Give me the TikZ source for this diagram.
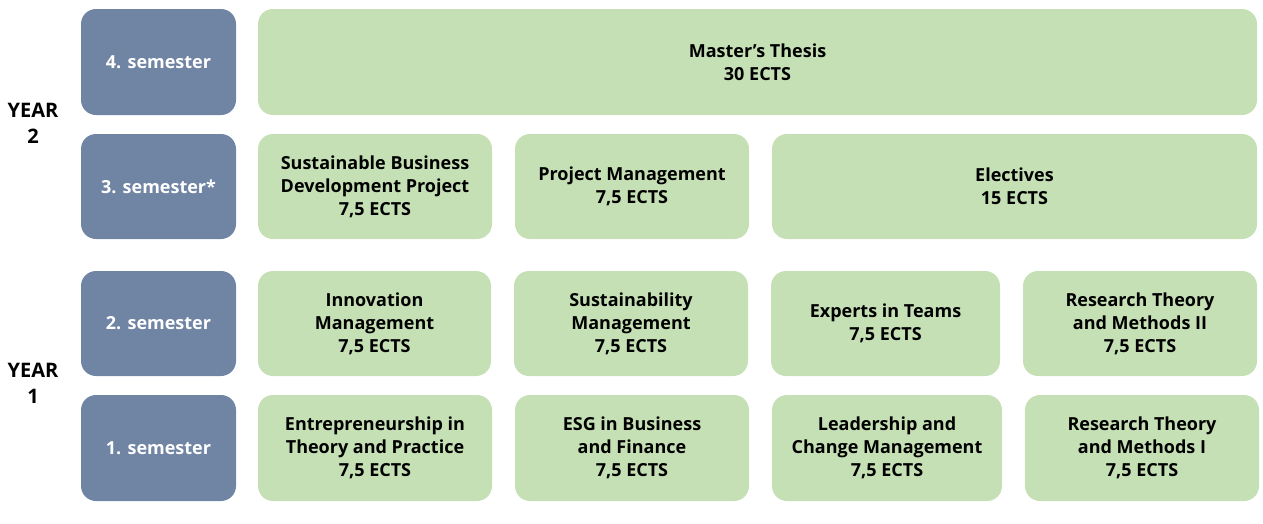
\documentclass[tikz,border=0pt]{standalone}
\usepackage{fontspec}
\setmainfont{Open Sans}
\definecolor{semblue}{HTML}{7084A4}
\definecolor{crsgreen}{HTML}{C5E0B4}
\begin{document}
\begin{tikzpicture}[x=1pt,y=-1pt,
  box/.style={rounded corners=15pt,align=center,inner sep=0pt,font=\fontsize{18}{23}\selectfont\bfseries},
  sem/.style={box,fill=semblue,text=white},
  crs/.style={box,fill=crsgreen,text=black},
  yearlbl/.style={align=center,font=\fontsize{20}{26}\selectfont\bfseries}]
\useasboundingbox (0,0) rectangle (1263,523);
\newcommand{\bx}[7]{\node[#1,minimum width={#4-#2},minimum height={#5-#3}] (#6) at ({(#2+#4)/2},{(#3+#5)/2}) {#7};}
% semesters
\bx{sem}{81}{9}{236}{115}{s4}{4. semester}
\bx{sem}{81}{134}{236}{239}{s3}{3. semester*}
\bx{sem}{81}{271}{236}{376}{s2}{2. semester}
\bx{sem}{81}{395}{236}{501}{s1}{1. semester}
% year labels
\node[yearlbl] (y2) at (33,123) {YEAR\\2};
\node[yearlbl] (y1) at (33,383) {YEAR\\1};
% semester 4
\bx{crs}{258}{9}{1257}{115}{thesis}{Master’s Thesis\\30 ECTS}
% semester 3
\bx{crs}{258}{134}{492}{239}{sbdp}{Sustainable Business\\Development Project\\7,5 ECTS}
\bx{crs}{515}{134}{749}{239}{pm}{Project Management\\7,5 ECTS}
\bx{crs}{772}{134}{1257}{239}{elec}{Electives\\15 ECTS}
% semester 2
\bx{crs}{258}{271}{491}{376}{innov}{Innovation\\Management\\7,5 ECTS}
\bx{crs}{514}{271}{748}{376}{sust}{Sustainability\\Management\\7,5 ECTS}
\bx{crs}{771}{271}{1000}{376}{exp}{Experts in Teams\\7,5 ECTS}
\bx{crs}{1023}{271}{1257}{376}{rtm2}{Research Theory\\and Methods II\\7,5 ECTS}
% semester 1
\bx{crs}{258}{395}{492}{501}{entr}{Entrepreneurship in\\Theory and Practice\\7,5 ECTS}
\bx{crs}{515}{395}{749}{501}{esg}{ESG in Business\\and Finance\\7,5 ECTS}
\bx{crs}{772}{395}{1002}{501}{lead}{Leadership and\\Change Management\\7,5 ECTS}
\bx{crs}{1025}{395}{1259}{501}{rtm1}{Research Theory\\and Methods I\\7,5 ECTS}
\end{tikzpicture}
\end{document}
